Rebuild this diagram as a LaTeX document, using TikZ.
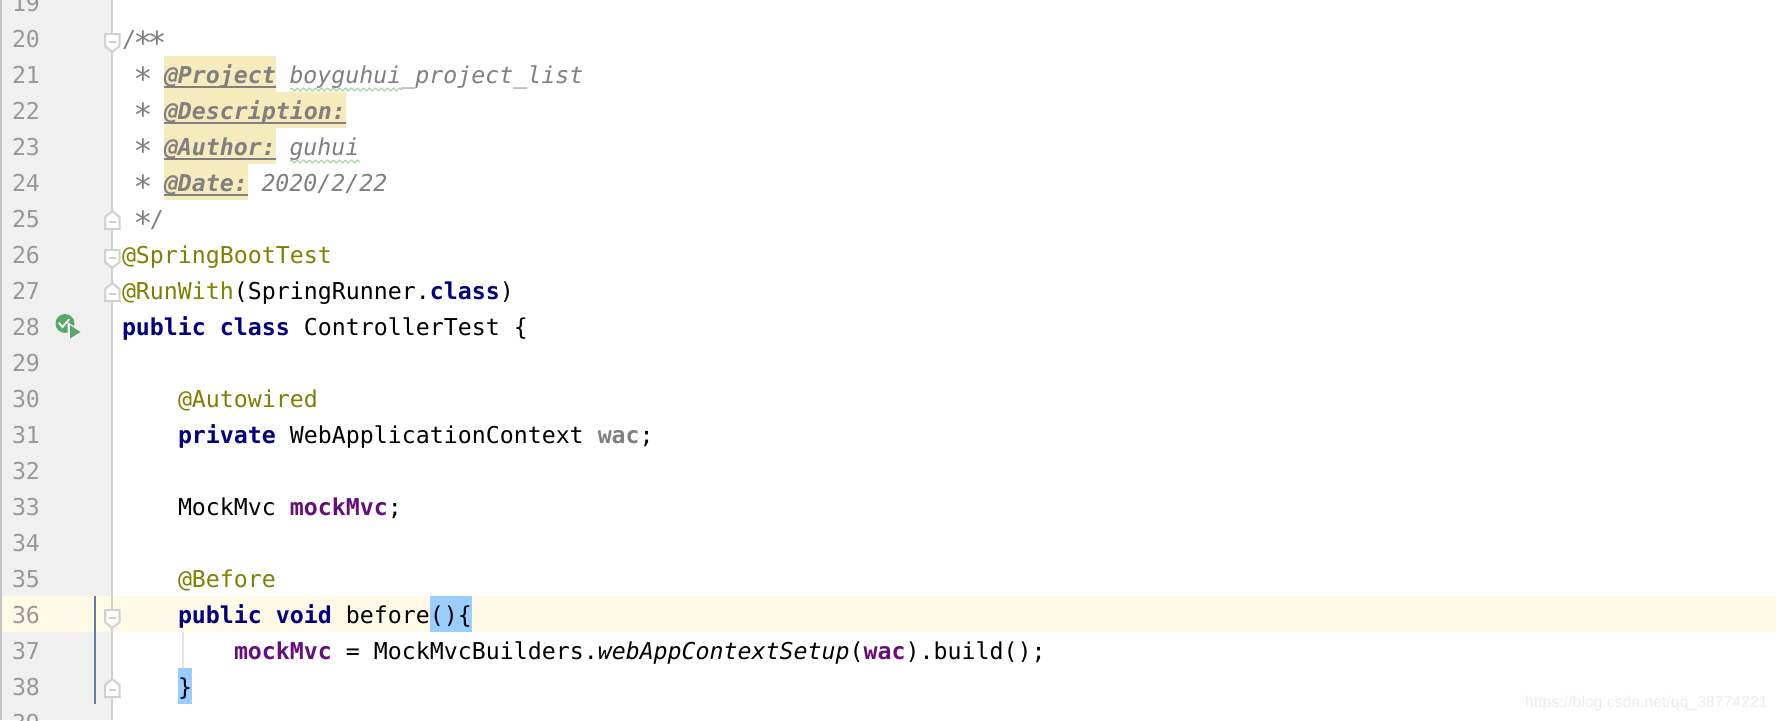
\documentclass[tikz,border=0pt]{standalone}
\usepackage{fontspec}
\usetikzlibrary{decorations.pathmorphing}
\setmainfont{DejaVu Sans Mono}
\newfontfamily\wmfont{Liberation Sans}
\definecolor{gutterbg}{HTML}{F0F0F0}
\definecolor{gutteredge}{HTML}{C4C4C4}
\definecolor{gutterline}{HTML}{D0D0D0}
\definecolor{lnum}{HTML}{999999}
\definecolor{cmt}{HTML}{808080}
\definecolor{tagbg}{HTML}{F5EBBC}
\definecolor{anno}{HTML}{808000}
\definecolor{kw}{HTML}{000080}
\definecolor{fld}{HTML}{660E7A}
\definecolor{caret}{HTML}{FFF9E5}
\definecolor{brace}{HTML}{99CCFF}
\definecolor{vcs}{HTML}{5B80B0}
\definecolor{guide}{HTML}{E6E6E6}
\definecolor{squig}{HTML}{A6D8A0}
\definecolor{runi}{HTML}{59A869}
\definecolor{wmark}{HTML}{EDEDED}
\newcommand{\cs}{\fontsize{11.62pt}{14pt}\selectfont}
\newcommand{\K}[1]{{\bfseries\color{kw}#1}}
\newcommand{\F}[1]{{\bfseries\color{fld}#1}}
\newcommand{\A}[1]{{\color{anno}#1}}
\newcommand{\W}[1]{{\bfseries\color{cmt}#1}}
% the reference's asterisk is larger and centred in its cell
\newcommand{\St}{\makebox[0.602em][c]{\raisebox{-0.27em}{\fontsize{16pt}{16pt}\selectfont *}}}
\tikzset{
 x=0.5pt,y=-0.5pt,
 code/.style={anchor=base west,inner sep=0pt,outer sep=0pt,yshift=-0.4pt,font=\cs,text=black},
 lno/.style={code,text=lnum},
 tag/.style={code,text=cmt,font=\cs\bfseries\itshape},
 foldmark/.style={draw=gutterline,fill=white,line width=1pt},
 foldminus/.style={draw=gutterline,line width=0.75pt},
 squigline/.style={draw=squig,line width=0.6pt,decorate,decoration={zigzag,segment length=3pt,amplitude=0.7pt}}
}
\newcommand{\foldopen}[1]{%
 \filldraw[foldmark] (105,#1+14) -- (119.5,#1+14) -- (119.5,#1+26) -- (112.2,#1+32) -- (105,#1+26) -- cycle;
 \draw[foldminus] (109,#1+22) -- (115.5,#1+22);}
\newcommand{\foldclose}[1]{%
 \filldraw[foldmark] (105,#1+29) -- (119.5,#1+29) -- (119.5,#1+17) -- (112.2,#1+11) -- (105,#1+17) -- cycle;
 \draw[foldminus] (109,#1+22) -- (115.5,#1+22);}
\begin{document}
\begin{tikzpicture}
\useasboundingbox (0,0) rectangle (1776,720);
\clip (0,0) rectangle (1776,720);
\fill[white] (0,0) rectangle (1776,720);
\fill[gutterbg] (0,0) rectangle (112,720);
\fill[caret] (2,596) rectangle (1776,632);
\fill[gutteredge] (0,0) rectangle (2,720);
\fill[gutterline] (111,0) rectangle (113,720);
% tag highlights
\fill[tagbg] (164,56) rectangle (276,92);
\fill[tagbg] (164,92) rectangle (346,128);
\fill[tagbg] (164,128) rectangle (276,164);
\fill[tagbg] (164,164) rectangle (248,200);
% brace highlights
\fill[brace] (429.5,596) rectangle (472,632);
\fill[brace] (178,668) rectangle (192,704);
% vcs bar and guide
\fill[vcs] (94,596) rectangle (96,704);
\fill[guide] (182,632) rectangle (184,668);
% underlines
\draw[cmt,line width=1pt] (164,86.5) -- (276,86.5);
\draw[cmt,line width=1pt] (164,122.5) -- (346,122.5);
\draw[cmt,line width=1pt] (164,158.5) -- (276,158.5);
\draw[cmt,line width=1pt] (164,194.5) -- (248,194.5);
% squiggles
\draw[squigline] (290,89.5) -- (402,89.5);
\draw[squigline] (290,161.5) -- (360,161.5);
% line numbers
\foreach \n in {19,...,39}{
 \pgfmathsetmacro{\yy}{83+36*(\n-21)}
 \node[lno] (ln\n) at (12,\yy) {\n};
}
% code
\node[code,text=cmt] (l20) at (122,47) {/\St\St};
\node[code,text=cmt] (l21a) at (136,83) {\St};
\node[tag] (l21b) at (164,83) {@Project};
\node[code,text=cmt,font=\cs\itshape] (l21c) at (289.5,83) {boyguhui\_project\_list};
\node[code,text=cmt] (l22a) at (136,119) {\St};
\node[tag] (l22b) at (164,119) {@Description:};
\node[code,text=cmt] (l23a) at (136,155) {\St};
\node[tag] (l23b) at (164,155) {@Author:};
\node[code,text=cmt,font=\cs\itshape] (l23c) at (289.5,155) {guhui};
\node[code,text=cmt] (l24a) at (136,191) {\St};
\node[tag] (l24b) at (164,191) {@Date:};
\node[code,text=cmt,font=\cs\itshape] (l24c) at (261.5,191) {2020/2/22};
\node[code,text=cmt] (l25) at (136,227) {\St/};
\node[code] (l26) at (122,263) {\A{@SpringBootTest}};
\node[code] (l27) at (122,299) {\A{@RunWith}(SpringRunner.\K{class})};
\node[code] (l28) at (122,335) {\K{public class} ControllerTest \{};
\node[code] (l30) at (178,407) {\A{@Autowired}};
\node[code] (l31) at (178,443) {\K{private} WebApplicationContext \W{wac};};
\node[code] (l33) at (178,515) {MockMvc \F{mockMvc};};
\node[code] (l35) at (178,587) {\A{@Before}};
\node[code] (l36) at (178,623) {\K{public void} before()\{};
\node[code] (l37) at (234,659) {\F{mockMvc} = MockMvcBuilders.{\itshape webAppContextSetup}(\F{wac}).build();};
\node[code] (l38) at (178,695) {\}};
% folds
\foldopen{20}
\foldclose{200}
\foldopen{236}
\foldclose{272}
\foldopen{596}
\foldclose{668}
% run icon
\fill[runi] (65,323.5) circle[radius=9.5];
\draw[gutterbg,line width=1pt,line cap=round] (59,323) -- (62.5,327) -- (69,319.5);
\fill[gutterbg] (67.5,322) -- (83,332) -- (67.5,341) -- cycle;
\fill[runi] (70,325) -- (80.5,332) -- (70,338.5) -- cycle;
% watermark
\node[anchor=base east,inner sep=0pt,text=wmark,font=\wmfont\fontsize{7.9pt}{10pt}\selectfont] (wm) at (1768,707) {https://blog.csdn.net/qq\_38774221};
\end{tikzpicture}
\end{document}
